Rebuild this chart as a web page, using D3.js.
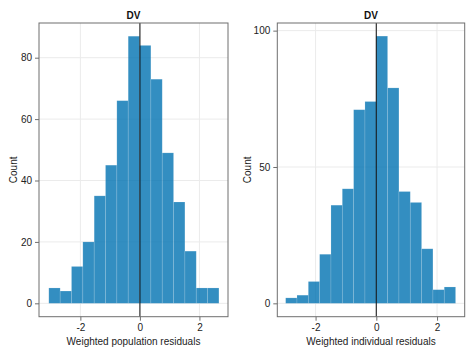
<!DOCTYPE html>
<html><head><meta charset="utf-8">
<script src="https://cdn.jsdelivr.net/npm/d3@7"></script>
<style>body{margin:0;background:#fff}svg text{font-family:"Liberation Sans",Arial,sans-serif}</style>
</head><body><svg id="c" width="474" height="355"></svg>
<script>
const title = "DV";
const popCounts = [5,4,12,20,35,45,66,87,84,73,49,33,17,5,5];
const popBinStart = -3.06, popBinWidth = 0.381;
const indCounts = [2,3,8,18,36,42,71,74,98,79,41,37,20,5,6];
const indBinStart = -2.985, indBinWidth = 0.373;
const xTicks = [-2,0,2];
const popYTicks = [0,20,40,60,80];
const indYTicks = [0,50,100];

const svg = d3.select("#c");
const FS = 10;
function panel(o){
  const g = svg.append("g");
  const x = d3.scaleLinear().domain(o.xd).range([o.x0,o.x1]);
  const y = d3.scaleLinear().domain(o.yd).range([o.y1,o.y0]);
  g.append("g").selectAll("line").data(xTicks).join("line")
    .attr("x1",d=>x(d)).attr("x2",d=>x(d)).attr("y1",o.y0).attr("y2",o.y1)
    .attr("stroke","#ebebeb").attr("stroke-width",1);
  g.append("g").selectAll("line").data(o.yt).join("line")
    .attr("y1",d=>y(d)).attr("y2",d=>y(d)).attr("x1",o.x0).attr("x2",o.x1)
    .attr("stroke","#ebebeb").attr("stroke-width",1);
  const bins = o.counts.map((c,i)=>({x0:o.bs+i*o.bw,x1:o.bs+(i+1)*o.bw,c}));
  g.append("g").selectAll("rect").data(bins).join("rect")
    .attr("x",d=>x(d.x0)).attr("width",d=>x(d.x1)-x(d.x0))
    .attr("y",d=>y(d.c)).attr("height",d=>y(0)-y(d.c))
    .attr("fill","#0072B2").attr("fill-opacity",0.8)
    .attr("stroke","#ffffff").attr("stroke-opacity",0.2).attr("stroke-width",0.7);
  g.append("line").attr("x1",x(0)).attr("x2",x(0)).attr("y1",o.y0).attr("y2",o.y1)
    .attr("stroke","#000").attr("stroke-opacity",0.8).attr("stroke-width",1.2);
  g.append("rect").attr("x",o.x0).attr("y",o.y0).attr("width",o.x1-o.x0).attr("height",o.y1-o.y0)
    .attr("fill","none").attr("stroke","#6e6e6e").attr("stroke-width",1);
  const xa = g.append("g").attr("transform",`translate(0,${o.y1})`)
    .call(d3.axisBottom(x).tickValues(xTicks).tickSize(4).tickPadding(3).tickFormat(d=>d<0?"-"+Math.abs(d):d));
  const ya = g.append("g").attr("transform",`translate(${o.x0},0)`)
    .call(d3.axisLeft(y).tickValues(o.yt).tickSize(4).tickPadding(3));
  [xa,ya].forEach(a=>{a.select(".domain").remove();
    a.selectAll("line").attr("stroke","#6e6e6e");
    a.selectAll("text").attr("font-size",FS).attr("fill","#222");});
  g.append("text").attr("x",(o.x0+o.x1)/2).attr("y",19).attr("text-anchor","middle")
    .attr("font-size",FS).attr("font-weight","bold").attr("fill","#111").text(title);
  g.append("text").attr("x",(o.x0+o.x1)/2).attr("y",345).attr("text-anchor","middle")
    .attr("font-size",FS).attr("fill","#222").text(o.xlab);
  g.append("text").attr("transform",`translate(${o.ylx},${(o.y0+o.y1)/2}) rotate(-90)`)
    .attr("text-anchor","middle").attr("font-size",FS).attr("fill","#222").text("Count");
}
panel({x0:39,x1:228,y0:23,y1:316.7,xd:[-3.39,2.96],yd:[-4.36,91.3],yt:popYTicks,
  counts:popCounts,bs:popBinStart,bw:popBinWidth,xlab:"Weighted population residuals",ylx:17});
panel({x0:277.3,x1:464.7,y0:23,y1:316.7,xd:[-3.26,2.91],yd:[-4.9,102.8],yt:indYTicks,
  counts:indCounts,bs:indBinStart,bw:indBinWidth,xlab:"Weighted individual residuals",ylx:251});
</script></body></html>
